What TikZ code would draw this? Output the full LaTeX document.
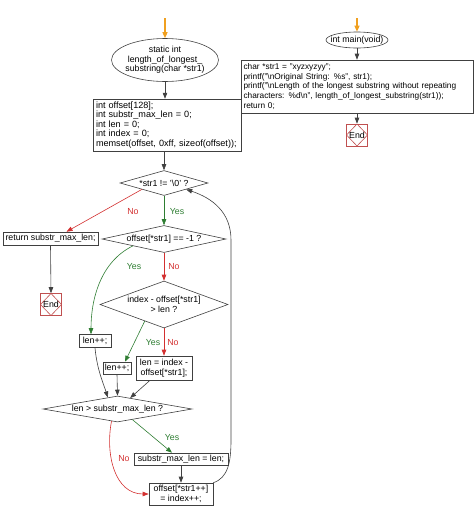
\documentclass[tikz,border=0pt]{standalone}
\usepackage{fontspec}
\setmainfont{Liberation Sans}
\usetikzlibrary{shapes.geometric,arrows.meta,calc}
\definecolor{yesc}{HTML}{2E7D32}
\definecolor{noc}{HTML}{D33030}
\definecolor{linec}{HTML}{404040}
\definecolor{endc}{HTML}{C05050}
\definecolor{startc}{HTML}{F0A020}
\begin{document}
\begin{tikzpicture}[x=1pt,y=-1pt,
  every node/.style={font=\fontsize{8.8}{9.6}\selectfont, text=black},
  every label/.style={align=center, inner sep=0pt},
  proc/.style={draw=linec, line width=0.6pt, rectangle, inner sep=2.5pt, align=left},
  dec/.style={draw=linec, line width=0.6pt, diamond, inner sep=0pt},
  oval/.style={draw=linec, line width=0.6pt, ellipse, inner sep=0pt},
  endbox/.style={draw=endc, line width=0.6pt, rectangle, minimum width=21pt, minimum height=22pt, inner sep=0pt,
    path picture={\draw[endc, line width=0.6pt] (path picture bounding box.north) -- (path picture bounding box.east) -- (path picture bounding box.south) -- (path picture bounding box.west) -- cycle;}},
  arr/.style={draw=linec, line width=0.6pt, -{Triangle[length=6pt,width=4.5pt]}},
  yarr/.style={draw=yesc, line width=0.6pt, -{Triangle[length=6pt,width=4.5pt]}},
  narr/.style={draw=noc, line width=0.6pt, -{Triangle[length=6pt,width=4.5pt]}},
  sarr/.style={draw=startc, line width=1.2pt, -{Triangle[length=6pt,width=5pt]}},
  ylbl/.style={text=yesc},
  nlbl/.style={text=noc}
]
\useasboundingbox (0,0) rectangle (474,515);

% ---------- function ----------
\coordinate (st1) at (165,18);
\node[oval, minimum width=107pt, minimum height=43pt,
  label={center:static int\\length\_of\_longest\_\\substring(char *str1)}] (e1) at (165,60) {};
\draw[sarr] (st1) -- (e1.north);

\node[proc, text width=143pt, minimum height=50pt, font=\fontsize{9.1}{9.6}\selectfont] (b1) at (167.5,125)
  {int offset[128];\\int substr\_max\_len = 0;\\int len = 0;\\int index = 0;\\memset(offset, 0xff, sizeof(offset));};

\node[dec, minimum width=88pt, minimum height=25pt, label={center:*str1 != '\textbackslash0' ?}] (d1) at (164,183) {};
\node[proc, align=center, minimum width=95pt, minimum height=13pt, inner sep=0.5pt] (r1) at (50.5,238.5) {return substr\_max\_len;};
\node[endbox] (end1) at (51,304.5) {End};

\node[dec, minimum width=124pt, minimum height=27pt, label={center:offset[*str1] == -1 ?}] (d2) at (164,239) {};
\node[dec, minimum width=128pt, minimum height=47pt, label={center:index - offset[*str1]\\> len ?}] (d3) at (164,304.5) {};

\node[proc, align=center, minimum width=32pt, minimum height=13pt, inner sep=0.5pt] (l1) at (95,341) {len++;};
\node[proc, align=center, minimum width=28pt, minimum height=12pt, inner sep=0.5pt] (l2) at (117,368) {len++;};
\node[proc, align=center, minimum width=56pt, minimum height=24pt, inner sep=0.5pt] (l3) at (164,368) {len = index -\\offset[*str1];};

\node[dec, minimum width=149pt, minimum height=26pt, label={center:len > substr\_max\_len ?}] (d4) at (117.5,409) {};
\node[proc, align=center, minimum width=94pt, minimum height=12pt, inner sep=0.5pt] (s1) at (181,459) {substr\_max\_len = len;};
\node[proc, align=center, minimum width=64pt, minimum height=22pt, inner sep=0.5pt] (o1) at (181,494) {offset[*str1++]\\= index++;};

\draw[arr] (e1.south) -- (e1.south |- b1.north);
\draw[arr] (d1.north |- b1.south) -- (d1.north);
\draw[narr] (d1.south west) -- ([xshift=16pt]r1.north);
\draw[yarr] (d1.south) -- (d2.north);
\draw[arr] (r1.south) -- (end1.north);
\draw[narr] (d2.south) -- (d3.north);
\draw[yarr] (d2.south west) .. controls (100,262) and (91,300) .. ([xshift=-4pt]l1.north);
\draw[yarr] ($(d3.south)!0.3!(d3.west)$) -- ([xshift=8pt]l2.north);
\draw[narr] (d3.south) -- (l3.north);
\draw[arr] (l1.south) .. controls (97,370) and (104,385) .. ($(d4.north)!0.13!(d4.west)$);
\draw[arr] (l2.south) -- (d4.north);
\draw[arr] ([xshift=-14pt]l3.south) -- ($(d4.north)!0.17!(d4.east)$);
\draw[yarr] ($(d4.south)!0.2!(d4.east)$) -- ([xshift=-9pt]s1.north);
\draw[narr] ($(d4.south)!0.08!(d4.west)$) .. controls (105,455) and (115,494) .. (o1.west);
\draw[arr] (s1.south) -- (o1.north);
\draw[arr] (o1.north east) .. controls (228,478) and (231,462) .. (231,440) -- (231,240) .. controls (231,212) and (212,198) .. (d1.south east);

\node[nlbl] (ln1) at (133,212) {No};
\node[ylbl] (ly1) at (177,212) {Yes};
\node[ylbl] (ly2) at (134,267) {Yes};
\node[nlbl] (ln2) at (174,267) {No};
\node[ylbl] (ly3) at (153,343) {Yes};
\node[nlbl] (ln3) at (173,343) {No};
\node[ylbl] (ly4) at (172,438) {Yes};
\node[nlbl] (ln4) at (124,459) {No};

% ---------- main ----------
\coordinate (st2) at (357,18);
\node[oval, minimum width=62pt, minimum height=16pt, label={center:int main(void)}] (e2) at (357,40) {};
\draw[sarr] (st2) -- (e2.north);
\node[proc, text width=227pt, minimum height=53pt, font=\fontsize{8.3}{9.8}\selectfont] (b2) at (357,86.5)
  {char *str1 = "xyzxyzyy";\\printf("\textbackslash nOriginal String: \%s", str1);\\printf("\textbackslash nLength of the longest substring without repeating\\characters: \%d\textbackslash n", length\_of\_longest\_substring(str1));\\return 0;};
\node[endbox] (end2) at (357,135) {End};
\draw[arr] (e2.south) -- (b2.north);
\draw[arr] (b2.south) -- (end2.north);
\end{tikzpicture}
\end{document}
